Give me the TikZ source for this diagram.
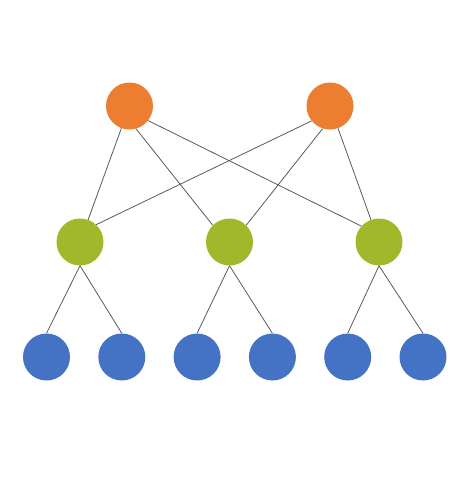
\documentclass[tikz,border=0pt]{standalone}
\usetikzlibrary{positioning}

\definecolor{topclr}{HTML}{ED7D31}
\definecolor{midclr}{HTML}{A2B82B}
\definecolor{lowclr}{HTML}{4472C4}
\definecolor{edgeclr}{HTML}{595959}

\tikzset{
	unit/.style={circle,minimum size=47pt,inner sep=0pt},
	top/.style={unit,fill=topclr},
	mid/.style={unit,fill=midclr},
	low/.style={unit,fill=lowclr},
	link/.style={draw=edgeclr,line width=0.8pt}
}

\begin{document}
\begin{tikzpicture}[x=1pt,y=-1pt]
	\useasboundingbox (0,0) rectangle (474,480);
	\node[top] (t1) at (129.5,106) {};
	\node[top] (t2) at (330,106) {};

	\node[mid] (m1) at (80,242) {};
	\node[mid] (m2) [right of=m1,node distance=149.5pt] {};
	\node[mid] (m3) [right of=m2,node distance=149.5pt] {};

	\node[low] (b1) at (46.5,357) {};
	\node[low] (b2) [right of=b1,node distance=75.3pt] {};
	\node[low] (b3) [right of=b2,node distance=75.3pt] {};
	\node[low] (b4) [right of=b3,node distance=75.3pt] {};
	\node[low] (b5) [right of=b4,node distance=75.3pt] {};
	\node[low] (b6) [right of=b5,node distance=75.3pt] {};

	\path[link] (t1) edge (m1)
	(t1.286) edge (m2.135)
	(t1.322) edge (m3.138)
	(t2.219) edge (m1.47)
	(t2.252) edge (m2.45)
	(t2) edge (m3)
	(m1.south) edge (b1.north)
	(m1.south) edge (b2.north)
	(m2.south) edge (b3.north)
	(m2.south) edge (b4.north)
	(m3.south) edge (b5.north)
	(m3.south) edge (b6.north)
	;
\end{tikzpicture}
\end{document}
